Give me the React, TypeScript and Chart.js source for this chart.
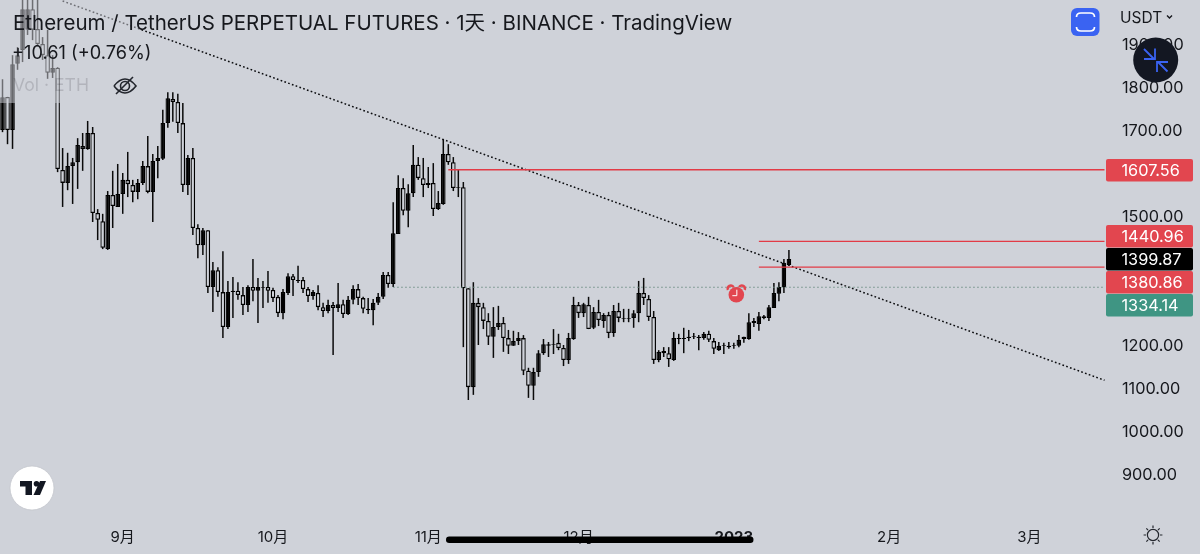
import React, { useEffect, useRef } from "react";
import { Chart, registerables } from "chart.js";

Chart.register(...registerables);

const opens = [
  1700,1777,1700,1854,1886,1933,1981,1935,1900,1874,
  1833,1845,1607,1577,1616,1625,1663,1656,1693,1507,
  1488,1423,1549,1521,1551,1584,1572,1556,1577,1616,
  1556,1628,1633,1716,1772,1765,1716,1572,1635,1472,
  1432,1467,1335,1374,1323,1242,1323,1326,1316,1293,
  1335,1326,1333,1335,1328,1312,1274,1321,1360,1349,
  1351,1330,1314,1321,1288,1279,1293,1286,1295,1272,
  1305,1330,1309,1284,1281,1298,1312,1363,1342,1458,
  1565,1512,1553,1619,1588,1572,1577,1516,1528,1644,
  1625,1565,1567,1332,1102,1298,1288,1256,1219,1242,
  1251,1216,1198,1209,1216,1140,1105,1137,1181,1198,
  1200,1205,1193,1165,1214,1293,1274,1293,1240,1277,
  1256,1270,1228,1279,1261,1261,1263,1274,1321,1307,
  1265,1165,1181,1181,1165,1214,1214,1216,1221,1216,
  1216,1226,1209,1188,1200,1195,1198,1198,1214,1214,
  1251,1249,1263,1263,1286,1319,1335,1386,
];
const closes = [
  1776,1700,1853,1874,1981,1981,1933,1900,1874,1833,
  1844,1609,1577,1616,1625,1665,1656,1693,1507,1491,
  1426,1549,1523,1551,1584,1574,1556,1577,1616,1556,
  1628,1635,1716,1774,1765,1716,1572,1635,1472,1432,
  1467,1335,1374,1323,1242,1323,1326,1316,1293,1335,
  1326,1335,1335,1326,1309,1274,1323,1360,1351,1351,
  1330,1314,1323,1288,1279,1293,1286,1295,1272,1305,
  1330,1309,1284,1281,1298,1312,1363,1342,1460,1565,
  1512,1553,1619,1588,1572,1577,1516,1530,1644,1625,
  1565,1567,1332,1102,1298,1288,1256,1219,1242,1251,
  1216,1198,1209,1216,1140,1105,1137,1181,1202,1202,
  1202,1193,1165,1216,1293,1274,1295,1237,1277,1258,
  1270,1228,1279,1263,1263,1263,1274,1321,1309,1265,
  1165,1184,1186,1167,1216,1216,1216,1219,1219,1219,
  1226,1212,1191,1198,1198,1198,1200,1212,1219,1253,
  1256,1267,1267,1288,1321,1335,1391,1399.87,
];
const highs = [
  1818,1777,1874,1893,2010,2010,2010,2010,1916,1933,
  1874,1846,1658,1647,1635,1681,1693,1721,1707,1516,
  1505,1558,1605,1621,1600,1649,1584,1586,1628,1686,
  1644,1663,1747,1788,1788,1784,1763,1642,1658,1481,
  1472,1467,1393,1381,1418,1349,1358,1346,1335,1339,
  1400,1356,1349,1372,1333,1316,1330,1367,1365,1384,
  1358,1335,1328,1339,1298,1305,1300,1344,1305,1314,
  1339,1342,1312,1309,1307,1321,1370,1370,1532,1595,
  1588,1574,1665,1637,1635,1614,1623,1558,1679,1667,
  1637,1609,1579,1332,1346,1309,1298,1274,1288,1291,
  1265,1235,1233,1230,1223,1147,1147,1188,1214,1207,
  1237,1226,1200,1228,1312,1300,1298,1312,1288,1305,
  1274,1277,1293,1298,1284,1284,1281,1349,1356,1316,
  1279,1188,1195,1195,1230,1226,1240,1235,1228,1223,
  1230,1233,1216,1207,1205,1207,1205,1223,1219,1274,
  1263,1277,1270,1293,1344,1346,1400,1421,
];
const lows = [
  1695,1667,1656,1840,1858,1921,1909,1895,1863,1819,
  1821,1602,1521,1560,1528,1563,1605,1654,1486,1444,
  1423,1421,1472,1521,1505,1544,1532,1539,1572,1553,
  1486,1588,1630,1705,1719,1693,1556,1549,1456,1402,
  1409,1321,1277,1312,1216,1237,1263,1305,1270,1277,
  1302,1251,1286,1298,1300,1265,1260,1316,1314,1344,
  1321,1300,1305,1281,1265,1274,1177,1277,1263,1270,
  1295,1293,1274,1272,1246,1293,1307,1333,1335,1458,
  1502,1474,1544,1584,1544,1565,1500,1514,1526,1619,
  1558,1544,1195,1072,1084,1200,1237,1200,1170,1235,
  1184,1179,1198,1200,1130,1077,1072,1126,1177,1172,
  1179,1188,1151,1156,1212,1263,1265,1237,1237,1244,
  1240,1216,1219,1253,1253,1253,1240,1253,1293,1256,
  1156,1160,1172,1149,1163,1202,1181,1209,1214,1188,
  1212,1207,1179,1186,1179,1191,1191,1195,1205,1212,
  1242,1233,1260,1256,1286,1302,1321,1384,
];

const DAY_SLOTS = 221;
const monthSlots: Record<number, string> = { 24: "9月", 54: "10月", 85: "11月", 115: "12月", 146: "2023", 177: "2月", 205: "3月" };
const categories = Array.from({ length: DAY_SLOTS }, (_, i) => monthSlots[i] ?? "");
const priceTicks = [1900, 1800, 1700, 1500, 1200, 1100, 1000, 900];

const trendFrom = { slot: 12, price: 2000 };
const trendTo = { slot: 220, price: 1118 };
const resistanceHigh = { slot: 89, price: 1607.56 };
const resistanceMid = { slot: 151, price: 1440.96 };
const resistanceLow = { slot: 151, price: 1380.86 };
const alarmLevel = { slot: 78, price: 1334.14 };
const alarmMarker = { slot: 146.5, price: 1317 };

const priceTags = [
  { text: "1607.56", top: 159, fill: "#e2464f" },
  { text: "1440.96", top: 225, fill: "#e2464f" },
  { text: "1399.87", top: 248, fill: "#000000" },
  { text: "1380.86", top: 271, fill: "#e2464f" },
  { text: "1334.14", top: 294, fill: "#3f9583" },
];

const titleText = "Ethereum / TetherUS PERPETUAL FUTURES · 1天 · BINANCE · TradingView";
const changeText = "+10.61 (+0.76%)";
const volumeText = "Vol · ETH";
const currencyText = "USDT";

const BG = "#cfd2d9";
const INK = "#16181d";
const FONT = 'Inter, "Noto Sans CJK SC", sans-serif';

const spanTo = (slot: number, price: number, end = DAY_SLOTS - 1, endPrice = price) => {
  const out: (number | null)[] = new Array(DAY_SLOTS).fill(null);
  out[slot] = price;
  out[end] = endPrice;
  return out;
};

const levelLine = (data: (number | null)[], color: string, dash: number[] = [], width = 1) => ({
  type: "line" as const,
  data,
  borderColor: color,
  borderWidth: width,
  borderDash: dash,
  pointRadius: 0,
  spanGaps: true,
  tension: 0,
  order: 0,
});

const noPadding = (s: any) => {
  s.paddingTop = 0;
  s.paddingBottom = 0;
  s.paddingLeft = 0;
  s.paddingRight = 0;
};

const overlay = {
  id: "overlay",
  afterDatasetsDraw(chart: any) {
    const { ctx } = chart;
    ctx.save();
    ctx.fillStyle = "rgba(207,210,217,0.5)";
    ctx.fillRect(0, 0, 140, 103);
    ctx.restore();
  },
  afterDraw(chart: any) {
    const { ctx, scales } = chart;
    ctx.save();
    ctx.textBaseline = "middle";
    ctx.textAlign = "left";
    ctx.fillStyle = INK;
    ctx.font = `20.5px ${FONT}`;
    ctx.fillText(titleText, 13, 24);
    ctx.font = `18.2px ${FONT}`;
    ctx.fillText(changeText, 12, 53.5);
    ctx.fillStyle = "rgba(22,24,29,0.16)";
    ctx.font = `17.6px ${FONT}`;
    ctx.fillText(volumeText, 13, 86);

    // hidden-volume eye
    ctx.strokeStyle = "#23262d";
    ctx.lineWidth = 1.6;
    ctx.beginPath();
    ctx.moveTo(114, 86);
    ctx.quadraticCurveTo(125, 72, 136, 86);
    ctx.quadraticCurveTo(125, 100, 114, 86);
    ctx.stroke();
    ctx.beginPath();
    ctx.arc(125, 86, 4.5, 0, Math.PI * 2);
    ctx.stroke();
    ctx.beginPath();
    ctx.moveTo(116, 94);
    ctx.lineTo(133, 77);
    ctx.stroke();

    // price tags
    for (const tag of priceTags) {
      ctx.fillStyle = tag.fill;
      ctx.beginPath();
      ctx.roundRect(1106, tag.top, 87, 22.5, 2);
      ctx.fill();
      ctx.fillStyle = "#ffffff";
      ctx.font = `16.3px ${FONT}`;
      ctx.fillText(tag.text, 1121.5, tag.top + 12);
    }

    // alarm marker
    const ax = scales.x.getPixelForValue(alarmMarker.slot);
    const ay = scales.y.getPixelForValue(alarmMarker.price);
    ctx.fillStyle = "#e2464f";
    ctx.beginPath();
    ctx.arc(ax, ay, 7.8, 0, Math.PI * 2);
    ctx.fill();
    ctx.strokeStyle = "#e2464f";
    ctx.lineWidth = 2.6;
    ctx.beginPath();
    ctx.arc(ax - 5.6, ay - 6.2, 3, Math.PI * 0.85, Math.PI * 1.85);
    ctx.stroke();
    ctx.beginPath();
    ctx.arc(ax + 5.6, ay - 6.2, 3, Math.PI * 1.15, Math.PI * 2.15);
    ctx.stroke();
    ctx.strokeStyle = "#ffffff";
    ctx.lineWidth = 1;
    ctx.beginPath();
    ctx.moveTo(ax + 0.5, ay - 5);
    ctx.lineTo(ax + 0.5, ay + 1);
    ctx.lineTo(ax - 4, ay + 1);
    ctx.stroke();

    // top-right controls
    ctx.fillStyle = "#3a63f2";
    ctx.beginPath();
    ctx.roundRect(1071, 8, 28.5, 28, 6);
    ctx.fill();
    ctx.strokeStyle = "#ffffff";
    ctx.lineWidth = 1.7;
    ctx.beginPath();
    ctx.moveTo(1076.5, 17);
    ctx.quadraticCurveTo(1076.5, 13, 1081, 13);
    ctx.lineTo(1090, 13);
    ctx.quadraticCurveTo(1094.5, 13, 1094.5, 17);
    ctx.moveTo(1076.5, 27);
    ctx.quadraticCurveTo(1076.5, 31, 1081, 31);
    ctx.lineTo(1090, 31);
    ctx.quadraticCurveTo(1094.5, 31, 1094.5, 27);
    ctx.stroke();

    ctx.fillStyle = INK;
    ctx.font = `15.5px ${FONT}`;
    ctx.fillText(currencyText, 1120, 18.5);
    ctx.strokeStyle = INK;
    ctx.lineWidth = 1.4;
    ctx.beginPath();
    ctx.moveTo(1167, 15.5);
    ctx.lineTo(1169.5, 18);
    ctx.lineTo(1172, 15.5);
    ctx.stroke();

    ctx.fillStyle = "#131722";
    ctx.beginPath();
    ctx.arc(1155.7, 60, 22.5, 0, Math.PI * 2);
    ctx.fill();
    ctx.strokeStyle = "#3a63f2";
    ctx.lineWidth = 1.8;
    ctx.beginPath();
    ctx.moveTo(1144, 49);
    ctx.lineTo(1154, 59);
    ctx.moveTo(1155, 48.5);
    ctx.lineTo(1155, 59);
    ctx.lineTo(1144, 59);
    ctx.moveTo(1167.5, 71.5);
    ctx.lineTo(1158, 62);
    ctx.moveTo(1157, 72);
    ctx.lineTo(1157, 62);
    ctx.lineTo(1168, 62);
    ctx.stroke();

    // logo
    ctx.fillStyle = "#ffffff";
    ctx.beginPath();
    ctx.arc(32, 488, 22, 0, Math.PI * 2);
    ctx.fill();
    ctx.strokeStyle = "#c4c7cd";
    ctx.lineWidth = 0.8;
    ctx.stroke();
    ctx.fillStyle = "#131722";
    ctx.fillRect(20, 481, 12, 5.5);
    ctx.fillRect(25.5, 481, 6.5, 14);
    ctx.beginPath();
    ctx.arc(36.5, 483.8, 2.8, 0, Math.PI * 2);
    ctx.fill();
    ctx.beginPath();
    ctx.moveTo(40, 481);
    ctx.lineTo(46, 481);
    ctx.lineTo(40, 495);
    ctx.lineTo(33.5, 495);
    ctx.closePath();
    ctx.fill();

    // sun
    ctx.strokeStyle = "#23262d";
    ctx.lineWidth = 1.2;
    ctx.beginPath();
    ctx.arc(1153, 535, 5.6, 0, Math.PI * 2);
    ctx.stroke();
    ctx.beginPath();
    for (let k = 0; k < 8; k++) {
      const a = (k * Math.PI) / 4;
      ctx.moveTo(1153 + Math.cos(a) * 7, 535 + Math.sin(a) * 7);
      ctx.lineTo(1153 + Math.cos(a) * 9.4, 535 + Math.sin(a) * 9.4);
    }
    ctx.stroke();

    // home indicator
    ctx.fillStyle = "#000000";
    ctx.beginPath();
    ctx.roundRect(446, 536.5, 307.5, 6.5, 3.2);
    ctx.fill();
    ctx.restore();
  },
};

export default function App() {
  const ref = useRef<HTMLCanvasElement | null>(null);

  useEffect(() => {
    document.body.style.margin = "0";
    document.body.style.background = BG;
    const isUp = opens.map((o, i) => closes[i] >= o);
    const chart = new Chart(ref.current as HTMLCanvasElement, {
      type: "bar",
      data: {
        labels: categories,
        datasets: [
          levelLine(spanTo(resistanceHigh.slot, resistanceHigh.price), "#e23b46", [], 1.3),
          levelLine(spanTo(resistanceMid.slot, resistanceMid.price), "#e23b46", [], 1.3),
          levelLine(spanTo(resistanceLow.slot, resistanceLow.price), "#e23b46", [], 1.3),
          levelLine(spanTo(alarmLevel.slot, alarmLevel.price), "#6f8f84", [1.5, 2.5], 1.1),
          levelLine(spanTo(trendFrom.slot, trendFrom.price, trendTo.slot, trendTo.price), "#0b0c0f", [1.7, 2.3], 1.5),
          {
            label: "wicks",
            data: lows.map((l, i) => [l, highs[i]]),
            backgroundColor: "#0a0a0a",
            borderWidth: 0,
            barThickness: 1.5,
            grouped: false,
            inflateAmount: 0,
            order: 3,
          },
          {
            label: "bodies",
            data: opens.map((o, i) => [o, closes[i]]),
            backgroundColor: isUp.map((u) => (u ? "#000000" : BG)),
            borderColor: "#000000",
            borderWidth: 1.3,
            borderSkipped: false,
            barThickness: 4.6,
            grouped: false,
            inflateAmount: 0,
            order: 2,
          },
        ] as any,
      },
      options: {
        animation: false,
        responsive: false,
        events: [],
        layout: { padding: 0 },
        plugins: { legend: { display: false }, tooltip: { enabled: false }, title: { display: false } },
        scales: {
          x: {
            type: "category",
            offset: true,
            grid: { display: false, drawTicks: false },
            border: { display: false },
            afterFit: (s: any) => { s.height = 34; noPadding(s); },
            ticks: {
              autoSkip: false,
              maxRotation: 0,
              minRotation: 0,
              padding: 8,
              color: INK,
              font: (c: any) => ({
                family: FONT,
                size: 15,
                weight: c.tick && c.tick.label === "2023" ? "bold" : "normal",
              }),
            },
          },
          y: {
            type: "linear",
            position: "right",
            min: 793,
            max: 2002.3,
            grid: { display: false, drawTicks: false },
            border: { display: false },
            afterFit: (s: any) => { s.width = 93; noPadding(s); },
            afterBuildTicks: (s: any) => { s.ticks = priceTicks.map((value) => ({ value })); },
            ticks: {
              padding: 15,
              labelOffset: 1,
              color: INK,
              font: { family: FONT, size: 16.3 },
              callback: (v: any) => Number(v).toFixed(2),
            },
          },
        },
      },
      plugins: [overlay],
    } as any);
    return () => chart.destroy();
  }, []);

  return (
    <div style={{ width: 1200, height: 554, background: BG, position: "fixed", left: 0, top: 0 }}>
      <canvas ref={ref} width={1200} height={554} style={{ display: "block" }} />
    </div>
  );
}
